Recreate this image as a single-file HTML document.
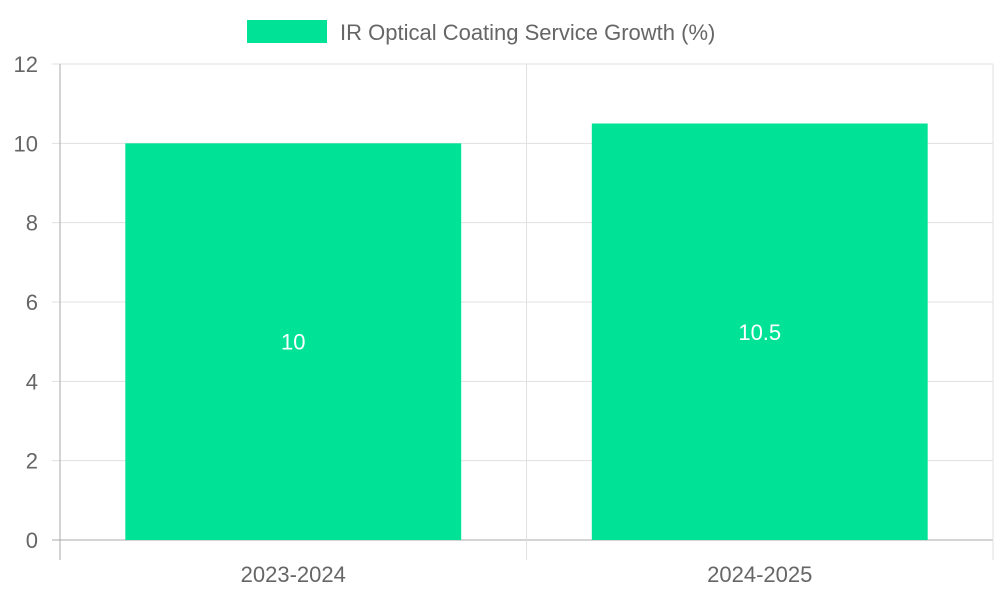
<!DOCTYPE html>
<html><head><meta charset="utf-8"><style>
body{margin:0;background:#fff;}
svg{display:block;font-family:"Liberation Sans",sans-serif;}
</style></head><body>
<svg id="chart" width="1000" height="600">
<g>
<rect x="247" y="20" width="80" height="23" fill="#00e396"/>
<text x="340" y="40" font-size="22" fill="#666">IR Optical Coating Service Growth (%)</text>
</g>
<g id="grid"></g>
<g id="bars"></g>
<g id="axes"></g>
</svg>
<script>
const categories = ["2023-2024", "2024-2025"];
const values = [10, 10.5];
const yTicks = [0, 2, 4, 6, 8, 10, 12];
const NS = "http://www.w3.org/2000/svg";
const L = 60, R = 993, T = 64, B = 540, yMax = 12;
const y = v => B - (v / yMax) * (B - T);
const bandW = (R - L) / categories.length;
const x = i => L + bandW * i;
function mk(tag, attrs, parent, text) {
  const e = document.createElementNS(NS, tag);
  for (const k in attrs) e.setAttribute(k, attrs[k]);
  if (text !== undefined) e.textContent = text;
  parent.appendChild(e);
  return e;
}
const grid = document.getElementById('grid');
const bars = document.getElementById('bars');
const axes = document.getElementById('axes');
yTicks.forEach(t => {
  const g = mk('line', {x1: L - 8, x2: R, y1: y(t), y2: y(t), stroke: t === 0 ? '#aaa' : '#e0e0e0', 'stroke-width': 1}, grid);
  
  
  const lb = mk('text', {x: 38, y: y(t) + 8, 'font-size': 22, fill: '#666', 'text-anchor': 'end'}, axes, String(t));
  
  
});
for (let i = 0; i <= categories.length; i++) {
  const v = mk('line', {x1: x(i), x2: x(i), y1: T, y2: B + 20, stroke: i === 0 ? '#aaa' : '#e0e0e0', 'stroke-width': 1}, grid);
  
  
}
categories.forEach((c, i) => {
  const bw = bandW * 0.72;
  const bx = x(i) + (bandW - bw) / 2;
  const r = mk('rect', {x: bx, y: y(values[i]), width: bw, height: B - y(values[i]), fill: '#00e396'}, bars);
  
  
  const vl = mk('text', {x: bx + bw / 2, y: (y(values[i]) + B) / 2 + 8, 'font-size': 22, fill: '#fff', 'text-anchor': 'middle'}, bars, String(values[i]));
  
  
  const xl = mk('text', {x: x(i) + bandW / 2, y: 582, 'font-size': 22, fill: '#666', 'text-anchor': 'middle'}, axes, c);
  
  
});
</script>
</body></html>
